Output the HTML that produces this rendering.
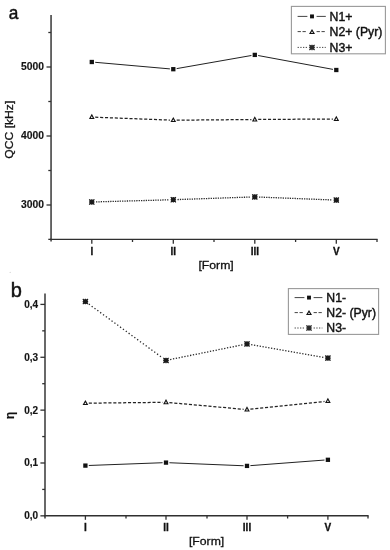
<!DOCTYPE html>
<html><head><meta charset="utf-8"><title>Figure</title>
<style>
html,body{margin:0;padding:0;background:#fff;}
body{width:390px;height:550px;overflow:hidden;}
svg{display:block;font-family:"Liberation Sans", Arial, sans-serif;}
text{stroke:#111;stroke-width:0.3px;}
text.t{stroke-width:0.15px;}
</style></head>
<body>
<svg width="390" height="550" viewBox="0 0 390 550">
<rect width="390" height="550" fill="#fff"/>
<circle cx="10.2" cy="272.4" r="0.7" fill="#d8d8d8"/>
<line x1="51.05" x2="51.05" y1="15" y2="241.4" stroke="#303030" stroke-width="1.45"/>
<line x1="50.25" x2="377.6" y1="239.35" y2="239.35" stroke="#303030" stroke-width="1.4"/>
<line x1="46.5" x2="51.05" y1="205.0" y2="205.0" stroke="#303030" stroke-width="1.3"/>
<text x="44.0" y="208.2" font-size="10.3" font-weight="bold" text-anchor="end" fill="#151515" class="t">3000</text>
<line x1="46.5" x2="51.05" y1="136.0" y2="136.0" stroke="#303030" stroke-width="1.3"/>
<text x="44.0" y="139.2" font-size="10.3" font-weight="bold" text-anchor="end" fill="#151515" class="t">4000</text>
<line x1="46.5" x2="51.05" y1="67.0" y2="67.0" stroke="#303030" stroke-width="1.3"/>
<text x="44.0" y="70.2" font-size="10.3" font-weight="bold" text-anchor="end" fill="#151515" class="t">5000</text>
<line x1="48.3" x2="51.05" y1="239.35" y2="239.35" stroke="#303030" stroke-width="1.3"/>
<line x1="48.3" x2="51.05" y1="170.5" y2="170.5" stroke="#303030" stroke-width="1.3"/>
<line x1="48.3" x2="51.05" y1="101.49999999999999" y2="101.49999999999999" stroke="#303030" stroke-width="1.3"/>
<line x1="48.3" x2="51.05" y1="32.49999999999997" y2="32.49999999999997" stroke="#303030" stroke-width="1.3"/>
<line x1="91.8" x2="91.8" y1="239.35" y2="243.8" stroke="#303030" stroke-width="1.3"/>
<text x="91.8" y="255.0" font-size="10" font-weight="bold" text-anchor="middle" fill="#111">I</text>
<line x1="173.3" x2="173.3" y1="239.35" y2="243.8" stroke="#303030" stroke-width="1.3"/>
<text x="173.3" y="255.0" font-size="10" font-weight="bold" text-anchor="middle" fill="#111">II</text>
<line x1="254.8" x2="254.8" y1="239.35" y2="243.8" stroke="#303030" stroke-width="1.3"/>
<text x="254.8" y="255.0" font-size="10" font-weight="bold" text-anchor="middle" fill="#111">III</text>
<line x1="336.3" x2="336.3" y1="239.35" y2="243.8" stroke="#303030" stroke-width="1.3"/>
<text x="336.3" y="255.0" font-size="10" font-weight="bold" text-anchor="middle" fill="#111">V</text>
<line x1="132.5" x2="132.5" y1="239.35" y2="242" stroke="#303030" stroke-width="1.3"/>
<line x1="214" x2="214" y1="239.35" y2="242" stroke="#303030" stroke-width="1.3"/>
<line x1="295.6" x2="295.6" y1="239.35" y2="242" stroke="#303030" stroke-width="1.3"/>
<line x1="377" x2="377" y1="239.35" y2="242" stroke="#303030" stroke-width="1.3"/>
<text transform="translate(216.1 269.0) scale(1.065 1)" font-size="11.5" text-anchor="middle" fill="#111">[Form]</text>
<text transform="translate(13.0 129.7) rotate(-90) scale(1.055 1)" font-size="11.5" text-anchor="middle" fill="#111">QCC [kHz]</text>
<text transform="translate(8.8 18.9) scale(0.9 1)" font-size="19.2" fill="#111" style="stroke-width:0.5px">a</text>
<line x1="95.19" y1="62.30" x2="169.91" y2="68.90" stroke="#222" stroke-width="1.0"/>
<line x1="176.65" y1="68.61" x2="251.45" y2="55.49" stroke="#222" stroke-width="1.0"/>
<line x1="258.14" y1="55.52" x2="332.96" y2="69.38" stroke="#222" stroke-width="1.0"/>
<rect x="89.65" y="59.85" width="4.3" height="4.3" fill="#111"/>
<rect x="171.15" y="67.05" width="4.3" height="4.3" fill="#111"/>
<rect x="252.65" y="52.75" width="4.3" height="4.3" fill="#111"/>
<rect x="334.15" y="67.85" width="4.3" height="4.3" fill="#111"/>
<line x1="95.20" y1="117.23" x2="169.90" y2="120.07" stroke="#222" stroke-width="1.25" stroke-dasharray="3.1 1.8"/>
<line x1="176.70" y1="120.17" x2="251.40" y2="119.53" stroke="#222" stroke-width="1.25" stroke-dasharray="3.1 1.8"/>
<line x1="258.20" y1="119.48" x2="332.90" y2="119.02" stroke="#222" stroke-width="1.25" stroke-dasharray="3.1 1.8"/>
<path d="M88.95 119.00L94.65 119.00L91.80 113.80Z" fill="#111"/><path d="M90.85 118.00L92.75 118.00L91.80 116.10Z" fill="#fff"/>
<path d="M170.45 122.10L176.15 122.10L173.30 116.90Z" fill="#111"/><path d="M172.35 121.10L174.25 121.10L173.30 119.20Z" fill="#fff"/>
<path d="M251.95 121.40L257.65 121.40L254.80 116.20Z" fill="#111"/><path d="M253.85 120.40L255.75 120.40L254.80 118.50Z" fill="#fff"/>
<path d="M333.45 120.90L339.15 120.90L336.30 115.70Z" fill="#111"/><path d="M335.35 119.90L337.25 119.90L336.30 118.00Z" fill="#fff"/>
<line x1="96.00" y1="201.88" x2="169.10" y2="199.82" stroke="#2a2a2a" stroke-width="1.3" stroke-dasharray="1.3 1.07"/>
<line x1="177.50" y1="199.56" x2="250.60" y2="197.04" stroke="#2a2a2a" stroke-width="1.3" stroke-dasharray="1.3 1.07"/>
<line x1="259.00" y1="197.06" x2="332.10" y2="199.94" stroke="#2a2a2a" stroke-width="1.3" stroke-dasharray="1.3 1.07"/>
<g><rect x="89.50" y="199.70" width="4.6" height="4.6" fill="#303030"/><path d="M89.05 202.00H94.55M91.80 199.25V204.75M89.20 199.40L94.40 204.60M89.20 204.60L94.40 199.40" stroke="#1a1a1a" stroke-width="1.1" fill="none"/></g>
<g><rect x="171.00" y="197.40" width="4.6" height="4.6" fill="#303030"/><path d="M170.55 199.70H176.05M173.30 196.95V202.45M170.70 197.10L175.90 202.30M170.70 202.30L175.90 197.10" stroke="#1a1a1a" stroke-width="1.1" fill="none"/></g>
<g><rect x="252.50" y="194.60" width="4.6" height="4.6" fill="#303030"/><path d="M252.05 196.90H257.55M254.80 194.15V199.65M252.20 194.30L257.40 199.50M252.20 199.50L257.40 194.30" stroke="#1a1a1a" stroke-width="1.1" fill="none"/></g>
<g><rect x="334.00" y="197.80" width="4.6" height="4.6" fill="#303030"/><path d="M333.55 200.10H339.05M336.30 197.35V202.85M333.70 197.50L338.90 202.70M333.70 202.70L338.90 197.50" stroke="#1a1a1a" stroke-width="1.1" fill="none"/></g>
<rect x="291.4" y="6.4" width="94.0" height="47.4" fill="#fff" stroke="#999" stroke-width="1.1"/>
<line x1="297.6" y1="16.4" x2="307.4" y2="16.4" stroke="#444" stroke-width="1"/>
<line x1="316.6" y1="16.4" x2="325.8" y2="16.4" stroke="#444" stroke-width="1"/>
<rect x="310.05" y="14.45" width="3.9" height="3.9" fill="#111"/>
<text x="329.6" y="20.799999999999997" font-size="12.25" fill="#111" style="stroke-width:0.42px">N1+</text>
<line x1="297.6" y1="31.6" x2="307.4" y2="31.6" stroke="#444" stroke-width="1" stroke-dasharray="3.3 1.6"/>
<line x1="316.6" y1="31.6" x2="325.8" y2="31.6" stroke="#444" stroke-width="1" stroke-dasharray="3.3 1.6"/>
<path d="M309.01 34.10L314.99 34.10L312.00 28.90Z" fill="#111"/><path d="M311.00 33.10L313.00 33.10L312.00 31.20Z" fill="#fff"/>
<text x="329.6" y="36.0" font-size="12.25" fill="#111" style="stroke-width:0.42px">N2+ (Pyr)</text>
<line x1="297.6" y1="47.4" x2="307.4" y2="47.4" stroke="#444" stroke-width="1" stroke-dasharray="1.3 1.4"/>
<line x1="316.6" y1="47.4" x2="325.8" y2="47.4" stroke="#444" stroke-width="1" stroke-dasharray="1.3 1.4"/>
<g><rect x="309.70" y="45.10" width="4.6" height="4.6" fill="#505050"/><path d="M309.25 47.40H314.75M312.00 44.65V50.15M309.40 44.80L314.60 50.00M309.40 50.00L314.60 44.80" stroke="#2a2a2a" stroke-width="1.1" fill="none"/></g>
<text x="329.6" y="51.8" font-size="12.25" fill="#111" style="stroke-width:0.42px">N3+</text>
<line x1="45.0" x2="45.0" y1="293.6" y2="518.4" stroke="#303030" stroke-width="1.45"/>
<line x1="44.2" x2="368.6" y1="515.85" y2="515.85" stroke="#303030" stroke-width="1.5"/>
<line x1="40.4" x2="45.0" y1="515.85" y2="515.85" stroke="#303030" stroke-width="1.3"/>
<text x="38.2" y="519.3000000000001" font-size="10" text-anchor="end" fill="#151515" font-weight="bold" class="t">0,0</text>
<line x1="40.4" x2="45.0" y1="462.99" y2="462.99" stroke="#303030" stroke-width="1.3"/>
<text x="38.2" y="466.44" font-size="10" text-anchor="end" fill="#151515" font-weight="bold" class="t">0,1</text>
<line x1="40.4" x2="45.0" y1="410.13" y2="410.13" stroke="#303030" stroke-width="1.3"/>
<text x="38.2" y="413.58" font-size="10" text-anchor="end" fill="#151515" font-weight="bold" class="t">0,2</text>
<line x1="40.4" x2="45.0" y1="357.27" y2="357.27" stroke="#303030" stroke-width="1.3"/>
<text x="38.2" y="360.71999999999997" font-size="10" text-anchor="end" fill="#151515" font-weight="bold" class="t">0,3</text>
<line x1="40.4" x2="45.0" y1="304.40999999999997" y2="304.40999999999997" stroke="#303030" stroke-width="1.3"/>
<text x="38.2" y="307.85999999999996" font-size="10" text-anchor="end" fill="#151515" font-weight="bold" class="t">0,4</text>
<line x1="42.2" x2="45.0" y1="489.42" y2="489.42" stroke="#303030" stroke-width="1.3"/>
<line x1="42.2" x2="45.0" y1="436.56" y2="436.56" stroke="#303030" stroke-width="1.3"/>
<line x1="42.2" x2="45.0" y1="383.70000000000005" y2="383.70000000000005" stroke="#303030" stroke-width="1.3"/>
<line x1="42.2" x2="45.0" y1="330.84000000000003" y2="330.84000000000003" stroke="#303030" stroke-width="1.3"/>
<line x1="85.4" x2="85.4" y1="515.85" y2="519.8" stroke="#303030" stroke-width="1.3"/>
<text x="85.4" y="531.2" font-size="10" font-weight="bold" text-anchor="middle" fill="#111">I</text>
<line x1="166.0" x2="166.0" y1="515.85" y2="519.8" stroke="#303030" stroke-width="1.3"/>
<text x="166.0" y="531.2" font-size="10" font-weight="bold" text-anchor="middle" fill="#111">II</text>
<line x1="247.0" x2="247.0" y1="515.85" y2="519.8" stroke="#303030" stroke-width="1.3"/>
<text x="247.0" y="531.2" font-size="10" font-weight="bold" text-anchor="middle" fill="#111">III</text>
<line x1="327.9" x2="327.9" y1="515.85" y2="519.8" stroke="#303030" stroke-width="1.3"/>
<text x="327.9" y="531.2" font-size="10" font-weight="bold" text-anchor="middle" fill="#111">V</text>
<line x1="126" x2="126" y1="515.85" y2="518.5" stroke="#303030" stroke-width="1.3"/>
<line x1="207" x2="207" y1="515.85" y2="518.5" stroke="#303030" stroke-width="1.3"/>
<line x1="287.6" x2="287.6" y1="515.85" y2="518.5" stroke="#303030" stroke-width="1.3"/>
<line x1="368" x2="368" y1="515.85" y2="518.5" stroke="#303030" stroke-width="1.3"/>
<text transform="translate(206.6 544.5) scale(1.065 1)" font-size="11.5" text-anchor="middle" fill="#111">[Form]</text>
<text transform="translate(14.3 415.5) rotate(-90) scale(0.88 1)" font-size="13.5" font-weight="bold" text-anchor="middle" fill="#111" class="t">η</text>
<text x="10.8" y="297.1" font-size="20" fill="#111" style="stroke-width:0.45px">b</text>
<line x1="88.80" y1="465.47" x2="162.60" y2="462.73" stroke="#222" stroke-width="1.0"/>
<line x1="169.40" y1="462.74" x2="243.60" y2="465.76" stroke="#222" stroke-width="1.0"/>
<line x1="250.39" y1="465.64" x2="324.51" y2="460.06" stroke="#222" stroke-width="1.0"/>
<rect x="83.25" y="463.45" width="4.3" height="4.3" fill="#111"/>
<rect x="163.85" y="460.45" width="4.3" height="4.3" fill="#111"/>
<rect x="244.85" y="463.75" width="4.3" height="4.3" fill="#111"/>
<rect x="325.75" y="457.65" width="4.3" height="4.3" fill="#111"/>
<line x1="88.80" y1="403.16" x2="162.60" y2="402.34" stroke="#222" stroke-width="1.25" stroke-dasharray="3.1 1.8"/>
<line x1="169.39" y1="402.61" x2="243.61" y2="409.29" stroke="#222" stroke-width="1.25" stroke-dasharray="3.1 1.8"/>
<line x1="250.38" y1="409.24" x2="324.52" y2="401.46" stroke="#222" stroke-width="1.25" stroke-dasharray="3.1 1.8"/>
<path d="M82.55 405.10L88.25 405.10L85.40 399.90Z" fill="#111"/><path d="M84.45 404.10L86.35 404.10L85.40 402.20Z" fill="#fff"/>
<path d="M163.15 404.20L168.85 404.20L166.00 399.00Z" fill="#111"/><path d="M165.05 403.20L166.95 403.20L166.00 401.30Z" fill="#fff"/>
<path d="M244.15 411.50L249.85 411.50L247.00 406.30Z" fill="#111"/><path d="M246.05 410.50L247.95 410.50L247.00 408.60Z" fill="#fff"/>
<path d="M325.05 403.00L330.75 403.00L327.90 397.80Z" fill="#111"/><path d="M326.95 402.00L328.85 402.00L327.90 400.10Z" fill="#fff"/>
<line x1="88.79" y1="304.08" x2="162.61" y2="357.92" stroke="#2a2a2a" stroke-width="1.3" stroke-dasharray="1.3 2.22"/>
<line x1="170.12" y1="359.56" x2="242.88" y2="344.74" stroke="#2a2a2a" stroke-width="1.3" stroke-dasharray="1.3 1.60"/>
<line x1="251.14" y1="344.63" x2="323.76" y2="357.37" stroke="#2a2a2a" stroke-width="1.3" stroke-dasharray="1.3 1.58"/>
<g><rect x="83.10" y="299.30" width="4.6" height="4.6" fill="#303030"/><path d="M82.65 301.60H88.15M85.40 298.85V304.35M82.80 299.00L88.00 304.20M82.80 304.20L88.00 299.00" stroke="#1a1a1a" stroke-width="1.1" fill="none"/></g>
<g><rect x="163.70" y="358.10" width="4.6" height="4.6" fill="#303030"/><path d="M163.25 360.40H168.75M166.00 357.65V363.15M163.40 357.80L168.60 363.00M163.40 363.00L168.60 357.80" stroke="#1a1a1a" stroke-width="1.1" fill="none"/></g>
<g><rect x="244.70" y="341.60" width="4.6" height="4.6" fill="#303030"/><path d="M244.25 343.90H249.75M247.00 341.15V346.65M244.40 341.30L249.60 346.50M244.40 346.50L249.60 341.30" stroke="#1a1a1a" stroke-width="1.1" fill="none"/></g>
<g><rect x="325.60" y="355.80" width="4.6" height="4.6" fill="#303030"/><path d="M325.15 358.10H330.65M327.90 355.35V360.85M325.30 355.50L330.50 360.70M325.30 360.70L330.50 355.50" stroke="#1a1a1a" stroke-width="1.1" fill="none"/></g>
<rect x="288.4" y="288.6" width="90.20000000000005" height="45.799999999999955" fill="#fff" stroke="#999" stroke-width="1.1"/>
<line x1="294.6" y1="297.6" x2="304.4" y2="297.6" stroke="#444" stroke-width="1"/>
<line x1="313.6" y1="297.6" x2="322.4" y2="297.6" stroke="#444" stroke-width="1"/>
<rect x="307.05" y="295.65" width="3.9" height="3.9" fill="#111"/>
<text x="326.3" y="302.0" font-size="12.25" fill="#111" style="stroke-width:0.42px">N1-</text>
<line x1="294.6" y1="312.6" x2="304.4" y2="312.6" stroke="#444" stroke-width="1" stroke-dasharray="3.3 1.6"/>
<line x1="313.6" y1="312.6" x2="322.4" y2="312.6" stroke="#444" stroke-width="1" stroke-dasharray="3.3 1.6"/>
<path d="M306.01 315.10L311.99 315.10L309.00 309.90Z" fill="#111"/><path d="M308.00 314.10L310.00 314.10L309.00 312.20Z" fill="#fff"/>
<text x="326.3" y="317.0" font-size="12.25" fill="#111" style="stroke-width:0.42px">N2- (Pyr)</text>
<line x1="294.6" y1="328" x2="304.4" y2="328" stroke="#444" stroke-width="1" stroke-dasharray="1.3 1.4"/>
<line x1="313.6" y1="328" x2="322.4" y2="328" stroke="#444" stroke-width="1" stroke-dasharray="1.3 1.4"/>
<g><rect x="306.70" y="325.70" width="4.6" height="4.6" fill="#505050"/><path d="M306.25 328.00H311.75M309.00 325.25V330.75M306.40 325.40L311.60 330.60M306.40 330.60L311.60 325.40" stroke="#2a2a2a" stroke-width="1.1" fill="none"/></g>
<text x="326.3" y="332.4" font-size="12.25" fill="#111" style="stroke-width:0.42px">N3-</text>
</svg>
</body></html>
